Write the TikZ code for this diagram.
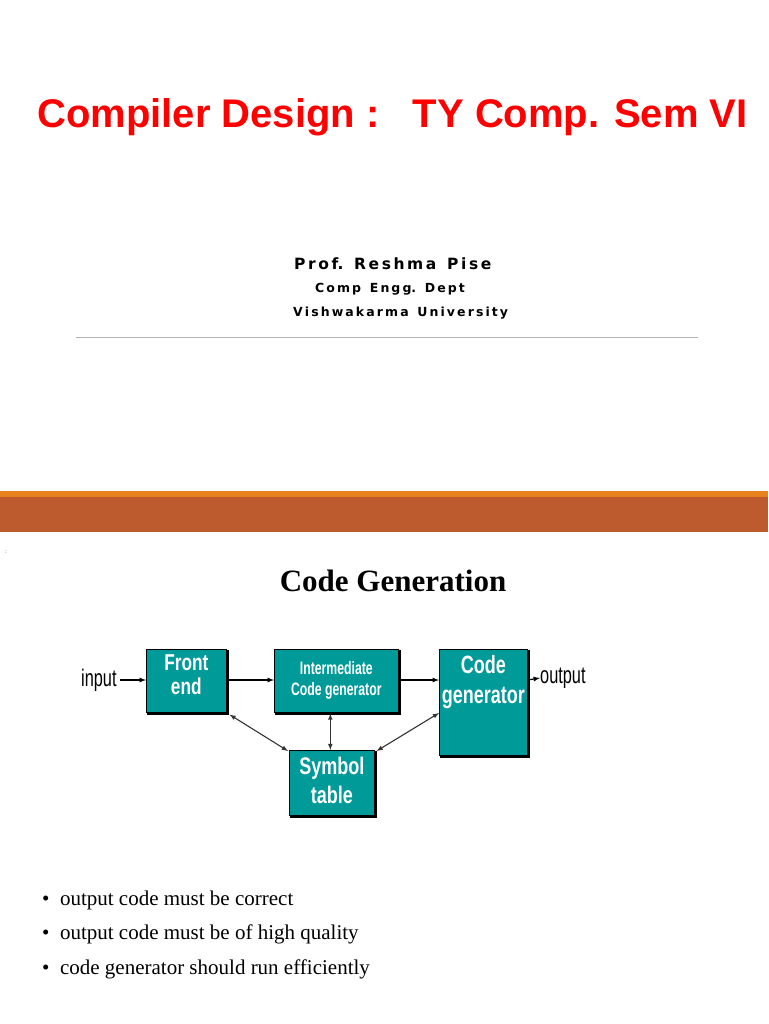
\documentclass[tikz,border=0pt]{standalone}
\usepackage{fontspec}
\setmainfont{Liberation Serif}
\newfontfamily\arialf{Liberation Sans}
\newfontfamily\dejaf{DejaVu Sans}
\definecolor{boxteal}{HTML}{009A98}
\definecolor{band}{HTML}{BD5A2E}
\definecolor{stripe}{HTML}{E8821E}
\begin{document}
\begin{tikzpicture}[x=1pt,y=-1pt,
 blk/.style={fill=boxteal, draw=black, line width=0.6pt, text=white, font=\arialf\bfseries, align=center, inner sep=0pt, anchor=north west},
 arr/.style={-latex, line width=1.2pt},
 darr/.style={latex-latex, line width=1.1pt, black!80}]
\useasboundingbox (0,0) rectangle (768,1024);
\fill[white] (0,0) rectangle (768,1024);
\node[text=red, font=\arialf\bfseries\fontsize{40}{44}\selectfont, anchor=west, inner sep=0pt] (title) at (37,117) {Compiler Design :\ \ \ TY Comp. Sem VI};
\node[font=\dejaf\bfseries\fontsize{15.5}{17}\selectfont, anchor=west, inner sep=0pt] (prof) at (294,264) {P\,r\,o\,f.\ \ R\,e\,s\,h\,m\,a\ \ P\,i\,s\,e};
\node[font=\dejaf\bfseries\fontsize{12.5}{14}\selectfont, anchor=west, inner sep=0pt] (dept) at (315,289) {C\,o\,m\,p\ \ E\,n\,g\,g.\ \ D\,e\,p\,t};
\node[font=\dejaf\bfseries\fontsize{12.5}{14}\selectfont, anchor=west, inner sep=0pt] (univ) at (293,313) {V\,i\,s\,h\,w\,a\,k\,a\,r\,m\,a\ \ U\,n\,i\,v\,e\,r\,s\,i\,t\,y};
\draw[gray!60, line width=0.8pt] (76,337) -- (698,337);
\fill[stripe] (0,491) rectangle (768,497);
\fill[band] (0,497) rectangle (768,532);
\node[font=\fontsize{27}{30}\selectfont, text=black!60] (dots) at (6,552) {\fontsize{6}{6}\selectfont :};
\node[font=\fontsize{31}{34}\selectfont\bfseries, inner sep=0pt] (cg) at (393,581) {Code Generation};
\draw[line width=2.5pt] (148,651) rectangle (228,714) (276,651) rectangle (400,714) (441,651) rectangle (529,757) (291,752) rectangle (376,817);
\node[blk, minimum width=80pt, minimum height=63pt] (fe) at (146,649) {\fontsize{23}{27}\selectfont\scalebox{0.75}[1]{\begin{tabular}{@{}c@{}}Front\\[-3pt]end\end{tabular}}\\[6pt]};
\node[blk, minimum width=124pt, minimum height=63pt] (ic) at (274,649) {\fontsize{18}{21}\selectfont\scalebox{0.68}[1]{\begin{tabular}{@{}c@{}}Intermediate\\Code generator\end{tabular}}};
\node[blk, minimum width=88pt, minimum height=106pt] (gen) at (439,649) {\fontsize{25}{30}\selectfont\scalebox{0.72}[1]{\begin{tabular}{@{}c@{}}Code\\generator\end{tabular}}\\[38pt]};
\node[blk, minimum width=85pt, minimum height=65pt] (sym) at (289,750) {\fontsize{24}{29}\selectfont\scalebox{0.75}[1]{\begin{tabular}{@{}c@{}}Symbol\\table\end{tabular}}};
\node[font=\arialf\fontsize{24}{26}\selectfont, anchor=west, inner sep=0pt] (in) at (81,680) {\scalebox{0.68}[1]{input}};
\node[font=\arialf\fontsize{24}{26}\selectfont, anchor=west, inner sep=0pt] (out) at (540,678) {\scalebox{0.68}[1]{output}};
\draw[arr] ([xshift=3pt]in.east) -- (fe.west |- in.east);
\draw[arr] (fe.east |- 0,680) -- (ic.west |- 0,680);
\draw[arr] (ic.east |- 0,680) -- (gen.west |- 0,680);
\draw[arr] (gen.east |- 0,680) -- (out.west);
\draw[darr] (fe.south east) ++(3,2) coordinate (a1) -- ([xshift=-1pt,yshift=-1pt]sym.north west);
\draw[darr] (ic.south) ++(-6,1) coordinate (a2) -- (a2 |- sym.north);
\draw[darr] (gen.west |- 0,713) coordinate (a3) -- ([xshift=2pt,yshift=-1pt]sym.north east);
\node[font=\fontsize{21}{24}\selectfont, anchor=west, inner sep=0pt] (b1) at (42,900) {\textbullet\ \ output code must be correct};
\node[font=\fontsize{21}{24}\selectfont, anchor=west, inner sep=0pt] (b2) at (42,934) {\textbullet\ \ output code must be of high quality};
\node[font=\fontsize{21}{24}\selectfont, anchor=west, inner sep=0pt] (b3) at (42,969) {\textbullet\ \ code generator should run efficiently};
\end{tikzpicture}
\end{document}
